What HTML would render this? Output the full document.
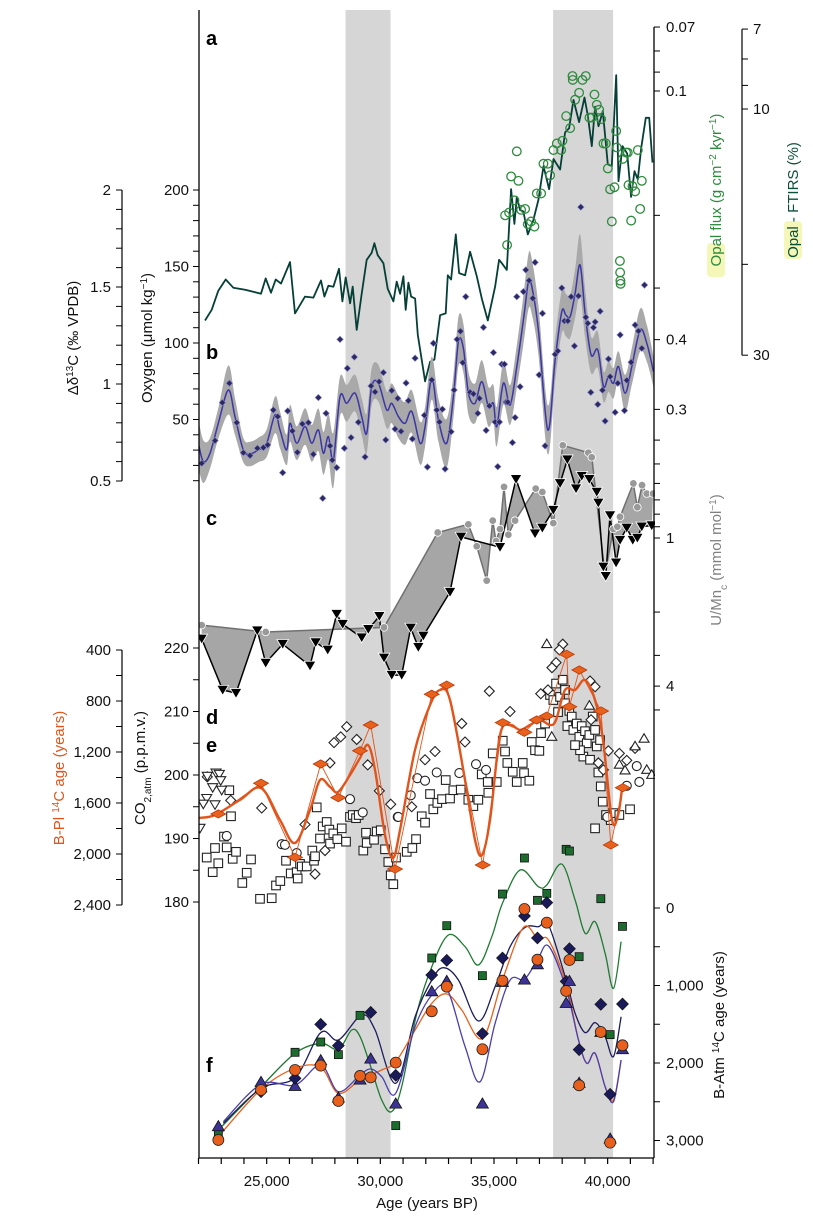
<!DOCTYPE html>
<html><head><meta charset="utf-8"><style>
html,body{margin:0;padding:0;background:#fff}
svg text{font-family:"Liberation Sans",Arial,sans-serif}
</style></head><body>
<svg id="chart" width="813" height="1216" viewBox="0 0 813 1216" xmlns="http://www.w3.org/2000/svg">
<defs><clipPath id="plotclip"><rect x="199" y="0" width="456" height="1158"/></clipPath></defs>
<g id="bands"></g>
<g id="marks" clip-path="url(#plotclip)"></g>
<g id="axes"></g>
</svg>
<script>
// ---------- data ----------
const bandStart=[28470,37600];
const bandEnd=[30450,40240];
// panel a: Opal FTIRS line (%)
const ftAge=[22286,22580,22873,23196,23533,24050,24750,24956,25190,25396,25630,26027,26247,26687,27054,27391,27538,27714,27934,28183,28330,28477,28668,28785,28961,29181,29401,29621,29738,29885,30134,30325,30575,30721,30868,31015,31117,31235,31352,31528,31646,31968,32188,32379,32628,32877,32966,33113,33318,33465,33729,33949,34242,34462,34726,35049,35225,35342,35562,35753,35900,36003,36149,36296,36487,36736,36956,37176,37426,37616,37910,38130,38306,38496,38746,38981,39127,39303,39450,39597,39788,40008,40184,40375,40477,40653,40859,41034,41181,41328,41475,41680,41827,41973];
const ftVal=[25.7,24.5,22.5,21.4,22.2,22.4,22.8,21.3,22.7,21.4,21.8,19.8,24.9,23.1,23.2,21.5,23.1,22.0,22.1,20.4,23.6,21.2,23.8,22.1,26.8,22.8,19.6,19.0,18.2,19.2,19.9,22.3,23.6,21.6,22.8,21.1,24.5,21.7,23.1,23.3,27.4,33.7,30.9,30.6,25.1,24.9,21.0,21.4,17.5,20.8,21.0,18.9,21.1,23.3,25.7,22.1,19.6,19.9,20.5,14.3,16.7,14.8,15.7,15.8,17.5,16.4,15.0,12.9,14.3,12.5,13.1,11.1,10.9,9.6,10.6,9.5,10.3,11.8,9.9,10.8,10.1,12.8,12.9,8.6,13.8,11.8,12.2,14.8,13.2,13.7,11.9,10.4,10.4,12.7];
// panel a: Opal flux circles
const ofAge=[35489,35665,35577,35753,35900,36003,36076,36193,36369,36487,36633,36780,36883,37074,37176,37367,37470,37616,37763,37954,38013,38174,38350,38453,38467,38570,38746,38893,39039,39200,39303,39421,39523,39626,39714,39817,39920,40008,40110,40184,40301,40375,40404,40540,40550,40560,40570,40667,40814,40887,40917,41034,41093,41210,41328,41431,41504];
const ofVal=[0.20,0.197,0.236,0.161,0.184,0.140,0.165,0.194,0.193,0.21,0.207,0.213,0.177,0.177,0.15,0.15,0.16,0.139,0.134,0.139,0.132,0.115,0.123,0.092,0.094,0.105,0.101,0.094,0.092,0.116,0.116,0.102,0.108,0.111,0.117,0.134,0.134,0.154,0.173,0.207,0.171,0.125,0.137,0.258,0.275,0.288,0.293,0.146,0.141,0.141,0.169,0.206,0.17,0.175,0.139,0.193,0.165];
// panel b: oxygen curve + band, d13C diamonds
const oxAge=[21993,22213,22506,22873,23313,23606,23973,24267,24633,24999,25367,25587,25880,26027,26320,26687,26980,27274,27494,27714,27934,28227,28521,28888,29181,29401,29621,29915,30281,30501,30795,31088,31382,31748,31968,32262,32555,32921,33215,33435,33655,33875,34168,34462,34756,34976,35122,35416,35709,36003,36296,36516,36663,36956,37367,37690,37983,38159,38350,38570,38790,39010,39274,39567,39817,40037,40257,40477,40770,41064,41431,41724,42018];
const oxVal=[34.5,22.5,27.9,47.5,69.3,51.9,30.1,27.5,30.1,34.5,53,43.2,30.1,47.5,34.5,45.4,34.5,43.2,27.9,38.8,23.6,65,60.6,67.2,51.9,41,71.5,73.7,56.3,60.6,51.9,47.5,55.2,34.5,45.4,77,49.7,34.5,65,100.9,96.5,67.2,60.6,74.8,58.4,60.6,45.4,73.7,59.5,84.6,115.1,140.1,136.9,108.5,43.2,88.9,120.5,118.3,117.2,132.5,151,119.4,92.2,95.5,71.5,78,73.7,84.6,67.2,84.6,108.5,99.8,81.3];
const oxSpread=[16,14,10,10,16,12,8,8,8,9,12,12,10,12,11,12,12,14,14,15,18,13,12,12,12,13,12,12,12,13,14,14,14,14,13,14,14,16,14,16,16,14,13,14,13,12,13,14,13,14,16,18,18,16,16,14,14,14,14,16,20,16,12,12,10,10,10,10,12,12,14,12,10];
const dcAge=[22139,22726,23049,23357,23680,23973,24267,24590,24854,25044,25293,25484,25704,25924,26129,26350,26570,26834,27054,27274,27465,27611,27787,27890,28081,28227,28418,28550,28712,28858,29034,29328,29592,29768,29944,30135,30237,30501,30648,30765,30912,31132,31235,31411,31528,31939,32071,32262,32335,32482,32599,32731,32849,33113,33245,33377,33523,33626,33758,33949,34096,34286,34360,34536,34653,34800,34976,35049,35166,35240,35342,35460,35533,35607,35812,35929,36003,36149,36296,36399,36545,36707,36809,36985,37132,37250,37690,37807,37983,38100,38247,38394,38540,38717,39039,39127,39259,39376,39450,39567,39670,39773,39890,40037,40110,40330,40447,40550,40741,40844,41034,41210,41357,41504,41622,38819];
const dcVal=[0.591,0.708,0.904,1.004,0.801,0.646,0.631,0.669,0.672,0.686,0.866,0.832,0.543,0.861,0.758,0.648,0.794,0.801,0.638,0.930,0.411,0.849,0.681,0.608,0.569,1.230,0.669,1.081,0.724,1.139,0.803,0.624,0.990,0.959,1.012,1.059,0.712,0.966,0.768,0.926,0.756,1.005,0.914,0.717,1.133,0.839,0.572,1.021,1.210,0.866,0.804,0.870,0.562,0.754,0.969,1.230,1.272,1.110,1.450,0.957,0.949,0.849,0.926,1.292,0.761,0.887,1.162,0.804,0.574,0.804,1.102,1.102,0.907,0.907,0.698,0.827,1.450,0.986,1.476,1.588,1.533,1.442,1.627,1.047,1.364,0.681,1.153,1.170,1.495,1.325,1.325,1.450,1.196,1.454,1.344,1.313,0.957,1.291,1.320,0.895,1.375,0.968,0.809,1.129,1.038,0.854,1.004,1.253,0.863,1.019,1.112,1.304,1.273,1.184,1.510,1.912];
// panel c: U/Mn
const umTriAge=[22141,23065,23650,24587,24957,25705,26906,27157,27685,28081,28345,29181,29471,29955,30162,30501,30941,31337,31671,31891,33066,33550,35266,35970,36806,37127,37611,37906,38227,38610,38861,39195,39521,39591,39811,39917,40106,40370,40546,40841,41105,41307,41501,41941];
const umTriVal=[2.57,4.15,4.27,2.38,3.22,2.70,3.31,2.66,2.85,2.04,2.24,2.54,2.35,2.08,3.07,3.61,3.61,2.32,2.78,2.50,1.66,0.99,1.09,0.577,0.96,0.91,0.77,0.60,0.48,0.63,0.56,0.577,0.65,0.72,1.31,1.43,0.81,1.26,1.02,0.91,1.02,1.00,0.90,0.89];
const umCirAge=[22141,24957,30162,32525,33871,34241,34681,34945,35090,35266,35442,35631,35926,36837,37127,37611,38025,39151,39301,39884,40251,40427,40546,41131,41307,41514,41721,41998];
const umCirVal=[2.26,2.41,2.31,0.95,0.88,1.08,1.49,0.85,1.03,0.92,0.62,0.97,0.85,0.63,0.65,0.87,0.42,0.45,0.47,1.41,0.92,0.90,0.82,0.60,0.75,0.61,0.66,0.66];
// panel d: B-Pl 14C age
const bpAge=[22871,24750,26246,27377,28151,29106,29577,30646,32261,32921,34505,35385,36335,36881,37321,38201,38315,38755,39710,40137,40665];
const bpVal=[1686,1445,2026,1294,1558,1190,988,2118,747,675,2086,970,1045,949,918,434,845,557,878,1929,1480];
const bpSmAge=[22022,22726,23826,24750,25586,26246,26906,27346,27786,28138,28666,29106,29458,29766,30206,30558,30866,31526,32186,32626,33066,33726,34166,34474,34826,35266,35706,36146,36586,37026,37466,37730,38126,38566,39006,39446,39798,40194,40458,40634];
const bpSmVal=[1718,1694,1576,1482,1733,1914,1655,1420,1474,1514,1380,1247,1145,1341,1851,2031,1812,1184,831,714,792,1420,1890,2008,1733,1067,988,1027,988,949,988,949,714,714,635,792,1106,1733,1694,1482];
// panel e: CO2 records
const co2DtriAge=[22387,22625,22770,22915,22977,23021,22361,22211,22726,22066];
const co2DtriVal=[199.8,198.0,200.3,200.1,199.1,197.6,196.3,195.4,195.3,191.6];
const co2DiaAge=[22387,23417,24781,26686,27126,27786,27962,28257,28521,28961,29445,29955,30457,27566,31381,31966,32406,33581,33726,34795,35706,37057,37730,38025,37875,39226,39446,40031,40515,41206,40841,39591,39811,37550,37374,39270];
const co2DiaVal=[199.7,196.0,194.8,192.2,184.4,201.9,205.1,206.0,207.6,205.6,201.6,197.5,195.4,188.1,195.0,202.4,203.7,208.1,205.2,213.2,210.0,212.8,217.7,220.6,219.7,214.8,213.9,203.8,203.4,204.2,202.3,201.9,200.8,216.9,213.4,208.7];
const co2CirAge=[23241,25661,25806,26321,28666,29225,30765,30791,31337,31627,31966,32481,33475,34210,34650,39987,40841,41395,41281];
const co2CirVal=[190.4,189.1,189.0,187.7,196.2,194.1,193.4,193.4,196.8,199.5,199.1,200.4,200.3,201.7,200.8,193.4,198.3,198.9,201.4];
const co2UtriAge=[37321,39195,41602,41206,40515,41721,41941,40766,37541];
const co2UtriVal=[220.7,211.0,205.8,204.6,201.7,200.9,200.1,200.8,206.1];
const co2SqAge=[22361,22726,22625,22871,23122,23241,23355,23430,23505,23650,23927,24121,24310,24706,25221,25410,25599,25850,26057,26321,26365,26466,26541,26761,27007,27082,27126,27201,27346,27465,27641,27755,27786,27931,28107,28301,28490,28666,28785,28930,29049,29251,29370,29401,29722,29841,30017,30206,30351,30457,30571,30690,31161,31407,31570,31821,31966,32186,32331,32507,32714,32877,33066,33211,33537,33871,34091,34311,34461,34725,34751,34945,35121,35385,35486,35587,35825,36001,36265,36322,36555,36661,36806,36995,37070,37246,37466,37611,37730,37906,38025,38126,38227,38315,38421,38491,38641,38755,38861,39006,39081,39195,39345,39446,39521,39591,39697,39785,39930,40137,40251,39446,40515,40986,38931,39226,38786,37818,38566,39666,38126];
const co2SqVal=[187.0,188.5,184.7,186.1,190.3,188.6,197.6,193.5,186.8,187.9,183.0,184.6,186.7,180.5,180.6,182.6,183.3,186.5,184.5,184.7,183.7,186.0,185.6,185.6,188.1,186.5,187.2,194.9,190.0,191.9,192.6,191.4,189.2,190.8,189.9,191.6,189.5,193.4,193.7,193.2,193.7,188.1,190.9,189.3,189.8,191.1,191.3,188.3,186.3,184.2,182.8,187.0,187.9,188.5,189.9,193.5,192.5,197.0,194.6,195.6,196.2,199.2,196.3,197.6,197.7,196.1,195.1,196.1,200.1,198.9,197.2,203.4,198.9,205.4,203.7,201.9,200.5,198.9,201.9,200.3,199.1,205.2,203.9,203.8,206.6,208.1,212.6,211.8,214.4,212.3,215.0,211.3,207.7,210.1,209.2,207.1,208.1,206.0,207.7,206.9,205.0,206.3,209.2,207.1,204.5,200.4,198.2,195.8,193.7,192.9,194.0,191.6,193.7,194.6,202.9,202.4,203.9,209.9,204.7,205.5,213.4];
// panel f: B-Atm 14C age
const fAge=[22873,24751,26247,27377,28154,29108,29577,30677,32262,32922,34491,35372,36340,36912,37323,38174,38320,38746,39699,40110,40653];
const fGreenVal=[2907,2327,1862,1729,1892,1385,null,2808,645,228,873,-180,-645,-99,-189,-757,-735,628,-120,1634,237];
const fNavyVal=[null,2370,2198,1501,1776,null,1346,2159,865,675,1621,645,103,387,-69,946,525,1828,1243,2404,1239];
const fOrangeVal=[2993,2348,2090,2034,2490,2167,2185,1995,1333,1015,1823,938,13,667,189,1071,671,2288,1600,3027,1772];
const fTriVal=[2812,2241,2292,1961,2443,2210,1940,2520,1071,938,2520,951,920,723,null,1221,938,2253,1596,2972,1819];
const gcAge=[22873,24751,26247,27377,28154,28741,29108,29577,30061,30501,30941,31602,32262,32995,33729,34316,34902,35372,36149,36956,37323,37983,38570,39010,39450,39890,40257,40594];
const gcVal=[2864,2305,1875,1746,1823,1574,1660,2047,2477,2627,2305,1359,757,349,499,736,370,-60,-490,-275,-297,-567,-103,327,177,585,1037,435];
const ncAge=[23093,24751,26247,27377,28154,29181,29768,30677,31528,32262,32775,33435,34316,35049,35709,36369,36956,37396,38174,38570,39010,39450,39890,40257,40594];
const ncVal=[2778,2327,2189,1608,1703,1381,1574,2262,1402,929,770,929,1458,1015,499,250,241,220,929,1359,1608,1479,1660,1918,1402];
const ocAge=[22873,24751,26247,27377,28154,29108,30061,30677,31528,32262,32922,33582,34491,35372,36296,36956,37396,38174,38716,39083,39450,39890,40257,40594];
const ocVal=[2950,2339,2069,2056,2391,2219,2090,1983,1574,1230,1110,1316,1682,929,250,413,413,972,1703,2004,1875,2305,2477,1961];
const pcAge=[23093,24751,26247,27377,28154,29108,29577,30061,30677,31528,32262,32922,33729,34389,35049,35709,36340,36912,37396,38174,38716,39083,39450,39890,40257,40594];
const pcVal=[2757,2275,2284,2026,2370,2155,2077,2176,2391,1531,1123,1037,1789,2241,1488,929,920,671,490,1037,1703,2004,1875,2305,2499,1961];
// tick label arrays
const xTickLabels=[25000,30000,35000,40000];
const oxTickLabels=[200,150,100,50];
const d13TickLabels=[2,1.5,1,0.5];
const co2TickLabels=[220,210,200,190,180];
const bplTickLabels=[400,800,1200,1600,2000,2400];
const batmTickLabels=[0,1000,2000,3000];

// ---------- scales ----------
const X=a=>198.5+(a-22000)*0.02273;
const yOx=v=>190+(200-v)*1.53;
const yD13=v=>190+(2-v)*194;
const yOF=v=>91+413*Math.log10(v/0.1);
const yFT=v=>109+516*Math.log10(v/10);
const yU=v=>538+246*Math.log10(v);
const yCO2=v=>648+(220-v)*6.35;
const yBP=v=>650+(v-400)*0.1275;
const yBA=v=>908+v*0.0775;

const NS='http://www.w3.org/2000/svg';
const marks=document.getElementById('marks');
const axes=document.getElementById('axes');
const bands=document.getElementById('bands');
function el(tag,attrs,parent){const e=document.createElementNS(NS,tag);for(const k in attrs)e.setAttribute(k,attrs[k]);(parent||marks).appendChild(e);return e;}
function fmt(n){return n.toLocaleString('en-US');}
function linePts(xs,ys){return xs.map((x,i)=>x.toFixed(1)+','+ys[i].toFixed(1)).join(' ');}
function smoothPath(xs,ys){let d='M'+xs[0]+','+ys[0];for(let i=0;i<xs.length-1;i++){const x0=xs[i-1]??xs[i],y0=ys[i-1]??ys[i],x3=xs[i+2]??xs[i+1],y3=ys[i+2]??ys[i+1];const c1x=xs[i]+(xs[i+1]-x0)/6,c1y=ys[i]+(ys[i+1]-y0)/6,c2x=xs[i+1]-(x3-xs[i])/6,c2y=ys[i+1]-(y3-ys[i])/6;d+=' C'+c1x.toFixed(1)+','+c1y.toFixed(1)+' '+c2x.toFixed(1)+','+c2y.toFixed(1)+' '+xs[i+1].toFixed(1)+','+ys[i+1].toFixed(1);}return d;}
function marker(kind,cx,cy,s,fill,stroke,sw){
  let e;
  if(kind==='circle')e=el('circle',{cx:cx,cy:cy,r:s,fill:fill,stroke:stroke,'stroke-width':sw});
  else if(kind==='square')e=el('rect',{x:cx-s,y:cy-s,width:2*s,height:2*s,fill:fill,stroke:stroke,'stroke-width':sw});
  else if(kind==='diamond')e=el('polygon',{points:`${cx},${cy-s} ${cx+s},${cy} ${cx},${cy+s} ${cx-s},${cy}`,fill:fill,stroke:stroke,'stroke-width':sw});
  else if(kind==='wdiamond')e=el('polygon',{points:`${cx},${cy-s*0.55} ${cx+s},${cy} ${cx},${cy+s*0.55} ${cx-s},${cy}`,fill:fill,stroke:stroke,'stroke-width':sw});
  else if(kind==='tridown')e=el('polygon',{points:`${cx-s},${cy-s*0.8} ${cx+s},${cy-s*0.8} ${cx},${cy+s*0.9}`,fill:fill,stroke:stroke,'stroke-width':sw});
  else e=el('polygon',{points:`${cx-s},${cy+s*0.8} ${cx+s},${cy+s*0.8} ${cx},${cy-s*0.9}`,fill:fill,stroke:stroke,'stroke-width':sw});
  return e;
}

// bands
for(let i=0;i<bandStart.length;i++){
  const r=el('rect',{x:X(bandStart[i]),y:10,width:X(bandEnd[i])-X(bandStart[i]),height:1148,fill:'#d6d6d6'},bands);
  
  
}

// panel a
let p=el('polyline',{points:linePts(ftAge.map(X),ftVal.map(yFT)),fill:'none',stroke:'#053f36','stroke-width':1.8,'stroke-linejoin':'round'});


ofAge.forEach((a,i)=>{const m=marker('circle',X(a),yOF(ofVal[i]),4.3,'none','#2e8b3e',1.3);

});

// panel b
{const xs=oxAge.map(X);const up=oxVal.map((v,i)=>yOx(v+oxSpread[i]));const lo=oxVal.map((v,i)=>yOx(v-oxSpread[i]));
let d=smoothPath(xs,up);const rx=xs.slice().reverse(),rl=lo.slice().reverse();d+=' L'+smoothPath(rx,rl).slice(1)+' Z';
const b=el('path',{d:d,fill:'#a9a9a9',stroke:'none'});


const c=el('path',{d:smoothPath(xs,oxVal.map(yOx)),fill:'none',stroke:'#3c36a6','stroke-width':1.5});

}
dcAge.forEach((a,i)=>{const m=marker('diamond',X(a),yD13(dcVal[i]),3.3,'#2c2860','#8f8fd0',0.6);

});

// panel c
{const cx=umCirAge.map(X),cy=umCirVal.map(yU),tx=umTriAge.map(X).reverse(),ty=umTriVal.map(yU).reverse();
const f=el('polygon',{points:linePts(cx.concat(tx),cy.concat(ty)),fill:'#a6a6a6',stroke:'none'});


const l1=el('polyline',{points:linePts(cx,cy),fill:'none',stroke:'#707070','stroke-width':1.5});


const l2=el('polyline',{points:linePts(umTriAge.map(X),umTriVal.map(yU)),fill:'none',stroke:'#000','stroke-width':1.5});

}
umCirAge.forEach((a,i)=>{const m=marker('circle',X(a),yU(umCirVal[i]),3.8,'#999','#fff',0.8);

});
umTriAge.forEach((a,i)=>{const m=marker('tridown',X(a),yU(umTriVal[i]),5.8,'#000','#fff',0.8);

});

// panel e
co2SqAge.forEach((a,i)=>{const m=marker('square',X(a),yCO2(co2SqVal[i]),4.3,'#fff','#222',1.1);

});
co2DiaAge.forEach((a,i)=>{const m=marker('diamond',X(a),yCO2(co2DiaVal[i]),5,'#fff','#222',1.1);

});
co2CirAge.forEach((a,i)=>{const m=marker('circle',X(a),yCO2(co2CirVal[i]),4.5,'#fff','#222',1.1);

});
co2UtriAge.forEach((a,i)=>{const m=marker('triup',X(a),yCO2(co2UtriVal[i]),5,'#fff','#222',1.1);

});
co2DtriAge.forEach((a,i)=>{const m=marker('tridown',X(a),yCO2(co2DtriVal[i]),5,'#fff','#222',1.1);

});

// panel d
p=el('polyline',{points:linePts(bpAge.map(X),bpVal.map(yBP)),fill:'none',stroke:'#e2541b','stroke-width':0.9});


p=el('path',{d:smoothPath(bpSmAge.map(X),bpSmVal.map(yBP)),fill:'none',stroke:'#e2541b','stroke-width':2.4});


bpAge.forEach((a,i)=>{const m=marker('wdiamond',X(a),yBP(bpVal[i]),7.5,'#e8621e','#b83a0a',0.8);

});

// panel f
[[gcAge,gcVal,'#1f7a32','green-curve'],[ncAge,ncVal,'#1c1c5c','navy-curve'],[ocAge,ocVal,'#e8601c','orange-curve'],[pcAge,pcVal,'#4a3fb0','purple-curve']].forEach(s=>{
  const c=el('path',{d:smoothPath(s[0].map(X),s[1].map(yBA)),fill:'none',stroke:s[2],'stroke-width':1.3});
  
  
});
fAge.forEach((a,i)=>{
  if(fGreenVal[i]!==null){const m=marker('square',X(a),yBA(fGreenVal[i]),4,'#1e6b30','#111',0.8);
  
  }
  if(fTriVal[i]!==null){const m=marker('triup',X(a),yBA(fTriVal[i]),6,'#3d3295','#111',0.8);
  
  }
  if(fNavyVal[i]!==null){const m=marker('diamond',X(a),yBA(fNavyVal[i]),6,'#1a1a58','#111',0.6);
  
  }
  const m=marker('circle',X(a),yBA(fOrangeVal[i]),5.5,'#e8601c','#222',0.8);
  
  
});

// ---------- axes ----------
function line(x1,y1,x2,y2,c,w,name){const l=el('line',{x1:x1,y1:y1,x2:x2,y2:y2,stroke:c||'#000','stroke-width':w||1.2},axes);

return l;}
function txt(x,y,s,anchor,size,color,name,rot){const t=el('text',{x:x,y:y,'text-anchor':anchor||'middle','font-size':size||14,fill:color||'#111'},axes);
if(rot)t.setAttribute('transform',`rotate(-90 ${x} ${y})`);
t.textContent=s;

return t;}

line(199,10,199,1158,'#000',1.3,'left-spine');
line(654,27,654,1158,'#000',1.3,'right-spine');
line(199,1158,654,1158,'#000',1.3,'x-axis-line');
for(let a=22000;a<=42000;a+=1000){line(X(a),1158,X(a),1164,'#000',1.2,'x-tick');}
xTickLabels.forEach(a=>txt(X(a),1186,fmt(a),'middle',15,'#111','x-tick-label'));
txt(427,1208,'Age (years BP)','middle',15,'#111','x-axis-title');

// oxygen axis
for(let v=10;v<=200;v+=10)line(193,yOx(v),199,yOx(v),'#000',1,'oxygen-tick');
oxTickLabels.forEach(v=>txt(189,yOx(v)+5,String(v),'end',15,'#111','oxygen-tick-label'));
{const t=txt(152,338,'','middle',15,'#111','oxygen-axis-title',true);t.innerHTML='Oxygen (μmol kg<tspan baseline-shift="super" font-size="10">−1</tspan>)';}
// d13C axis
line(122,yD13(2),122,yD13(0.5),'#000',1.2,'d13c-axis-line');
for(let v=5;v<=20;v++)line(116,yD13(v/10),122,yD13(v/10),'#000',1,'d13c-tick');
d13TickLabels.forEach(v=>txt(111,yD13(v)+5,String(v),'end',15,'#111','d13c-tick-label'));
{const t=txt(78,338,'','middle',15,'#111','d13c-axis-title',true);t.innerHTML='Δδ<tspan baseline-shift="super" font-size="10">13</tspan>C (‰ VPDB)';}
// CO2 axis
for(let v=180;v<=220;v+=5)line(193,yCO2(v),199,yCO2(v),'#000',1,'co2-tick');
co2TickLabels.forEach(v=>txt(189,yCO2(v)+5,String(v),'end',15,'#111','co2-tick-label'));
{const t=txt(145,768,'','middle',15,'#111','co2-axis-title',true);t.innerHTML='CO<tspan baseline-shift="sub" font-size="10">2,atm</tspan> (p.p.m.v.)';}
// B-Pl axis
line(122,yBP(400),122,yBP(2400),'#000',1.2,'bpl-axis-line');
for(let v=400;v<=2400;v+=200)line(116,yBP(v),122,yBP(v),'#000',1,'bpl-tick');
bplTickLabels.forEach(v=>txt(111,yBP(v)+5,fmt(v),'end',15,'#111','bpl-tick-label'));
{const t=txt(64,778,'','middle',15,'#e2541b','bpl-axis-title',true);t.innerHTML='B-Pl <tspan baseline-shift="super" font-size="10">14</tspan>C age (years)';}
// Opal flux axis
[0.07,0.08,0.09,0.1,0.2,0.3,0.4].forEach(v=>line(654,yOF(v),660,yOF(v),'#000',1,'opal-flux-tick'));
[[0.07,'0.07'],[0.1,'0.1'],[0.4,'0.4']].forEach(v=>txt(666,yOF(v[0])+5,v[1],'start',15,'#111','opal-flux-tick-label'));
{const hl=el('rect',{x:707,y:243,width:18,height:34,rx:4,fill:'#f5f7b8'},axes);


const t=txt(721,190,'','middle',15,'#2e8b3e','opal-flux-axis-title',true);t.innerHTML='Opal flux (g cm<tspan baseline-shift="super" font-size="10">−2</tspan> kyr<tspan baseline-shift="super" font-size="10">−1</tspan>)';}
// FTIRS axis
line(742,yFT(7),742,yFT(30),'#000',1.2,'ftirs-axis-line');
[7,8,9,10,20,30].forEach(v=>line(742,yFT(v),748,yFT(v),'#000',1,'ftirs-tick'));
[7,10,30].forEach(v=>txt(753,yFT(v)+5,String(v),'start',15,'#111','ftirs-tick-label'));
{const hl=el('rect',{x:784,y:221,width:18,height:38,rx:4,fill:'#f5f7b8'},axes);


txt(798,200,'Opal - FTIRS (%)','middle',15,'#0b4f3a','ftirs-axis-title',true);}
// U/Mn axis
[0.3,0.4,0.5,0.6,0.7,0.8,0.9,1,2,3,4,5].forEach(v=>line(654,yU(v),660,yU(v),'#000',1,'umn-tick'));
[[0.3,'0.3'],[1,'1'],[4,'4']].forEach(v=>txt(666,yU(v[0])+5,v[1],'start',15,'#111','umn-tick-label'));
{const t=txt(721,560,'','middle',15,'#808080','umn-axis-title',true);t.innerHTML='U/Mn<tspan baseline-shift="sub" font-size="10">c</tspan> (mmol mol<tspan baseline-shift="super" font-size="10">−1</tspan>)';}
// B-Atm axis
for(let v=0;v<=3000;v+=500)line(654,yBA(v),660,yBA(v),'#000',1,'batm-tick');
batmTickLabels.forEach(v=>txt(666,yBA(v)+5,fmt(v),'start',15,'#111','batm-tick-label'));
{const t=txt(724,1025,'','middle',15,'#111','batm-axis-title',true);t.innerHTML='B-Atm <tspan baseline-shift="super" font-size="10">14</tspan>C age (years)';}
// panel letters
[['a',45],['b',359],['c',525],['d',724],['e',752],['f',1072]].forEach(l=>{const t=txt(206,l[1],l[0],'start',20,'#000','panel-label-'+l[0]);t.setAttribute('font-weight','bold');});
</script>
</body></html>
